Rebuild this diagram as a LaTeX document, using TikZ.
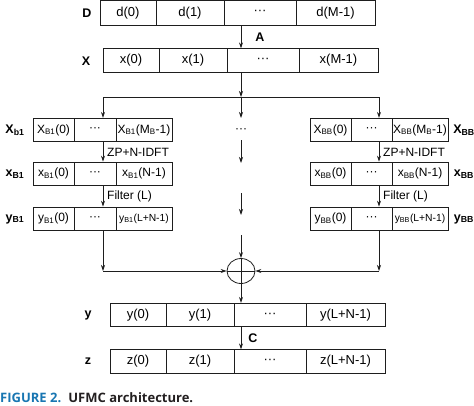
\documentclass[tikz,border=0pt]{standalone}
\usepackage{fontspec}
\setmainfont{Liberation Sans}
\newfontfamily\capfont{Open Sans}
\usetikzlibrary{shapes.geometric,arrows.meta}
\definecolor{capblue}{RGB}{24,118,178}
\definecolor{ln}{RGB}{30,30,30}
\definecolor{captxt}{RGB}{35,31,32}
\newcommand{\sbs}[1]{\textsubscript{#1}}
\newcommand{\dts}{\textperiodcentered\textperiodcentered\textperiodcentered}
\tikzset{
 cell/.style={draw=ln, line width=0.8pt, inner sep=0pt, minimum height=23.5pt, font=\fontsize{12}{14}\selectfont},
 mcell/.style={cell, font=\fontsize{13}{15}\selectfont},
 lab/.style={font=\fontsize{12.5}{14}\selectfont\bfseries, inner sep=0pt},
 op/.style={font=\fontsize{12}{14}\selectfont, inner sep=0pt},
 arr/.style={draw=ln, line width=0.7pt, -{Stealth[length=6pt,width=4pt]}},
 con/.style={draw=ln, line width=0.7pt},
}
\begin{document}
\begin{tikzpicture}[x=1pt,y=-1pt]
\useasboundingbox (0,0) rectangle (474,405);
% column coordinates
\coordinate (cx) at (241,0);
\coordinate (lcol) at (103,0);
\coordinate (rcol) at (379,0);
% D row
\node[mcell, minimum height=24.5pt, minimum width=56pt] (d0) at (128,12.75) {d(0)};
\node[mcell, minimum height=24.5pt, minimum width=68pt] (d1) at (190,12.75) {d(1)};
\node[mcell, minimum height=24.5pt, minimum width=72pt] (d2) at (260,12.75) {\dts};
\node[mcell, minimum height=24.5pt, minimum width=79pt] (d3) at (335.5,12.75) {d(M-1)};
\node[lab] (Dl) at (87,13) {D};
% X row
\node[mcell, minimum width=56pt] (x0) at (131,60.5) {x(0)};
\node[mcell, minimum width=68pt] (x1) at (193,60.5) {x(1)};
\node[mcell, minimum width=72pt] (x2) at (263,60.5) {\dts};
\node[mcell, minimum width=79pt] (x3) at (338.5,60.5) {x(M-1)};
\node[lab] (Xl) at (86,61) {X};
\draw[arr] (cx |- d2.south) -- (cx |- x2.north);
\node[lab] (A) at (260,37.5) {A};
% split
\coordinate (split) at (241,97);
\draw[arr] (cx |- x2.south) -- (split);
% left branch
\node[cell, minimum width=41pt] (la0) at (53.5,130) {X\sbs{B1}(0)};
\node[cell, minimum width=42pt] (la1) at (95,130) {\dts};
\node[cell, minimum width=56pt] (la2) at (144,130) {X\sbs{B1}(M\sbs{B}-1)};
\node[cell, minimum width=41pt] (lb0) at (53.5,173.75) {x\sbs{B1}(0)};
\node[cell, minimum width=42pt] (lb1) at (95,173.75) {\dts};
\node[cell, minimum width=56pt] (lb2) at (144,173.75) {x\sbs{B1}(N-1)};
\node[cell, minimum width=41pt] (lc0) at (53.5,218.75) {y\sbs{B1}(0)};
\node[cell, minimum width=42pt] (lc1) at (95,218.75) {\dts};
\node[cell, minimum width=56pt] (lc2) at (144,218.75) {\fontsize{10.3}{12}\selectfont y\sbs{B1}(L+N-1)};
\node[lab] (lal) at (15,130) {X\sbs{b1}};
\node[lab] (lbl) at (15,174) {x\sbs{B1}};
\node[lab] (lcl) at (15,219) {y\sbs{B1}};
% right branch
\node[cell, minimum width=41pt] (ra0) at (330.5,130) {X\sbs{BB}(0)};
\node[cell, minimum width=41pt] (ra1) at (371.5,130) {\dts};
\node[cell, minimum width=56pt] (ra2) at (420,130) {X\sbs{BB}(M\sbs{B}-1)};
\node[cell, minimum width=41pt] (rb0) at (330.5,173.75) {x\sbs{BB}(0)};
\node[cell, minimum width=41pt] (rb1) at (371.5,173.75) {\dts};
\node[cell, minimum width=56pt] (rb2) at (420,173.75) {x\sbs{BB}(N-1)};
\node[cell, minimum width=41pt] (rc0) at (330.5,218.75) {y\sbs{BB}(0)};
\node[cell, minimum width=41pt] (rc1) at (371.5,218.75) {\dts};
\node[cell, minimum width=56pt] (rc2) at (420,218.75) {\fontsize{10.3}{12}\selectfont y\sbs{BB}(L+N-1)};
\node[lab] (ral) at (464,130) {X\sbs{BB}};
\node[lab] (rbl) at (464,174) {x\sbs{BB}};
\node[lab] (rcl) at (464,219) {y\sbs{BB}};
% split connectors
\draw[arr] (split) -| (lcol |- la1.north);
\draw[arr] (split) -| (rcol |- ra1.north);
% branch arrows
\draw[arr] (lcol |- la1.south) -- (lcol |- lb1.north);
\draw[arr] (lcol |- lb1.south) -- (lcol |- lc1.north);
\draw[arr] (rcol |- ra1.south) -- (rcol |- rb1.north);
\draw[arr] (rcol |- rb1.south) -- (rcol |- rc1.north);
\node[op, anchor=west] (lzp) at (107,152) {ZP+N-IDFT};
\node[op, anchor=west] (lfi) at (107,196.5) {Filter (L)};
\node[op, anchor=west] (rzp) at (383,152) {ZP+N-IDFT};
\node[op, anchor=west] (rfi) at (383,196.5) {Filter (L)};
% middle column
\coordinate (m1e) at (241,118);
\node[op] (mdots) at (241,131) {\dts};
\coordinate (m2s) at (241,140);
\coordinate (m2e) at (241,163);
\coordinate (m3s) at (241,193);
\coordinate (m3e) at (241,215);
\coordinate (m4s) at (241,235);
\draw[arr] (split) -- (m1e);
\draw[arr] (m2s) -- (m2e);
\draw[arr] (m3s) -- (m3e);
% sum
\node[draw=ln, line width=0.8pt, ellipse, minimum width=28pt, minimum height=25pt, inner sep=0pt] (plus) at (241,271) {};
\draw[con] (plus.north) -- (plus.south);
\draw[con] (plus.west) -- (plus.east);
\draw[arr] (m4s) -- (plus.north);
\draw[arr] (lcol |- lc1.south) -- (lcol |- plus);
\draw[arr] (lcol |- plus) -- (plus.west);
\draw[arr] (rcol |- rc1.south) -- (rcol |- plus);
\draw[arr] (rcol |- plus) -- (plus.east);
% y row
\node[mcell, minimum width=56pt] (y0) at (138,315) {y(0)};
\node[mcell, minimum width=68pt] (y1) at (200,315) {y(1)};
\node[mcell, minimum width=72pt] (y2) at (270,315) {\dts};
\node[mcell, minimum width=79pt] (y3) at (345.5,315) {y(L+N-1)};
\node[lab] (yl) at (88,315) {y};
\draw[arr] (plus.south) -- (cx |- y2.north);
% z row
\node[mcell, minimum width=56pt] (z0) at (138,361.5) {z(0)};
\node[mcell, minimum width=68pt] (z1) at (200,361.5) {z(1)};
\node[mcell, minimum width=72pt] (z2) at (270,361.5) {\dts};
\node[mcell, minimum width=79pt] (z3) at (345.5,361.5) {z(L+N-1)};
\node[lab] (zl) at (88,361.5) {z};
\draw[arr] (cx |- y2.south) -- (cx |- z2.north);
\node[lab] (C) at (253,338.5) {C};
% caption
\node[anchor=west, inner sep=0pt] (cap) at (0,397.5) {\resizebox{193pt}{!}{\capfont\bfseries\textcolor{capblue}{FIGURE 2.}\hspace{0.55em}\textcolor{captxt}{UFMC architecture.}}};
\end{tikzpicture}
\end{document}
